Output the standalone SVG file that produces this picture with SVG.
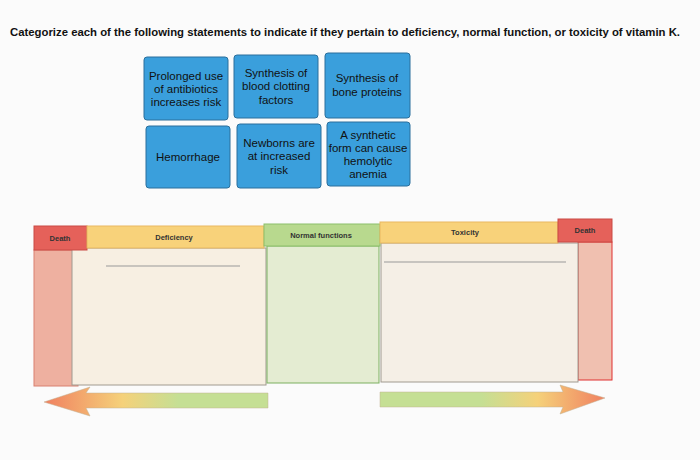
<svg xmlns="http://www.w3.org/2000/svg" width="700" height="460" viewBox="0 0 700 460">
<defs>
<style>
text{font-family:"Liberation Sans",Arial,sans-serif;fill:#111}
.card{fill:#3a9fdc;stroke:#2a6f9c;stroke-width:1}
.ct{font-size:11.5px;text-anchor:middle}
.hd{font-size:7.5px;font-weight:bold;text-anchor:middle;fill:#333}
.red{fill:#e5615a;stroke:#c94a44}
.yel{fill:#f8d27a;stroke:#e9b860}
.grn{fill:#b8d98e;stroke:#8cbf6a}
</style>
<linearGradient id="gl" x1="0" x2="1"><stop offset="0" stop-color="#f08060"/><stop offset="0.35" stop-color="#f5d17a"/><stop offset="0.6" stop-color="#c5df94"/><stop offset="1" stop-color="#c5df94"/></linearGradient>
<linearGradient id="gr" x1="0" x2="1"><stop offset="0" stop-color="#c5df94"/><stop offset="0.45" stop-color="#c5df94"/><stop offset="0.7" stop-color="#f5d17a"/><stop offset="1" stop-color="#f08060"/></linearGradient>
</defs>
<rect width="700" height="460" fill="#fbfbfb"/>
<text x="10" y="36" font-size="11.5" font-weight="bold" fill="#222" textLength="670" lengthAdjust="spacingAndGlyphs">Categorize each of the following statements to indicate if they pertain to deficiency, normal function, or toxicity of vitamin K.</text>
<g id="card1"><rect class="card" x="144" y="57" width="84" height="63" rx="3"/><text class="ct" x="186" y="80">Prolonged use</text><text class="ct" x="186" y="93">of antibiotics</text><text class="ct" x="186" y="106">increases risk</text></g>
<g id="card2"><rect class="card" x="234" y="55" width="84" height="63" rx="3"/><text class="ct" x="276" y="77">Synthesis of</text><text class="ct" x="276" y="90">blood clotting</text><text class="ct" x="276" y="104">factors</text></g>
<g id="card3"><rect class="card" x="325" y="53" width="85" height="65" rx="3"/><text class="ct" x="367" y="82">Synthesis of</text><text class="ct" x="367" y="96">bone proteins</text></g>
<g id="card4"><rect class="card" x="146" y="126" width="84" height="62" rx="3"/><text class="ct" x="188" y="161">Hemorrhage</text></g>
<g id="card5"><rect class="card" x="237" y="124" width="84" height="64" rx="3"/><text class="ct" x="279" y="147">Newborns are</text><text class="ct" x="279" y="160">at increased</text><text class="ct" x="279" y="174">risk</text></g>
<g id="card6"><rect class="card" x="327" y="122" width="83" height="64" rx="3"/><text class="ct" x="368" y="139">A synthetic</text><text class="ct" x="368" y="152">form can cause</text><text class="ct" x="368" y="165">hemolytic</text><text class="ct" x="368" y="178">anemia</text></g>
<g id="table">
<rect x="34" y="250" width="44" height="136" fill="#eeb0a0" stroke="#d98070"/>
<rect x="578" y="242" width="34" height="138" fill="#f0c0b0" stroke="#e03030"/>
<rect x="72" y="248" width="194" height="137" fill="#f7efe2" stroke="#a09a90"/>
<rect x="267" y="246" width="112" height="137" fill="#e4ecd2" stroke="#7cb060"/>
<rect x="381" y="243" width="197" height="139" fill="#f5efe6" stroke="#a09a90"/>
<line x1="106" y1="266" x2="240" y2="266" stroke="#999"/>
<line x1="384" y1="262" x2="566" y2="262" stroke="#999"/>
</g>
<g id="h-death-l"><rect class="red" x="34" y="226" width="53" height="24"/><text class="hd" x="60" y="241">Death</text></g>
<g id="h-def"><rect class="yel" x="87" y="226" width="177" height="22"/><text class="hd" x="174" y="240">Deficiency</text></g>
<g id="h-norm"><rect class="grn" x="264" y="224" width="116" height="22"/><text class="hd" x="321" y="238">Normal functions</text></g>
<g id="h-tox"><rect class="yel" x="380" y="222" width="178" height="21"/><text class="hd" x="465" y="235">Toxicity</text></g>
<g id="h-death-r"><rect class="red" x="558" y="219" width="54" height="23"/><text class="hd" x="585" y="233">Death</text></g>
<g id="connectors">
<polygon points="44,402 90,387 86,393 268,393 268,408 86,408 90,416" fill="url(#gl)" stroke="#c0b090" stroke-width="0.5"/>
<polygon points="380,392 563,392 560,385 605,398 560,414 563,407 380,407" fill="url(#gr)" stroke="#c0b090" stroke-width="0.5"/>
</g>
</svg>
